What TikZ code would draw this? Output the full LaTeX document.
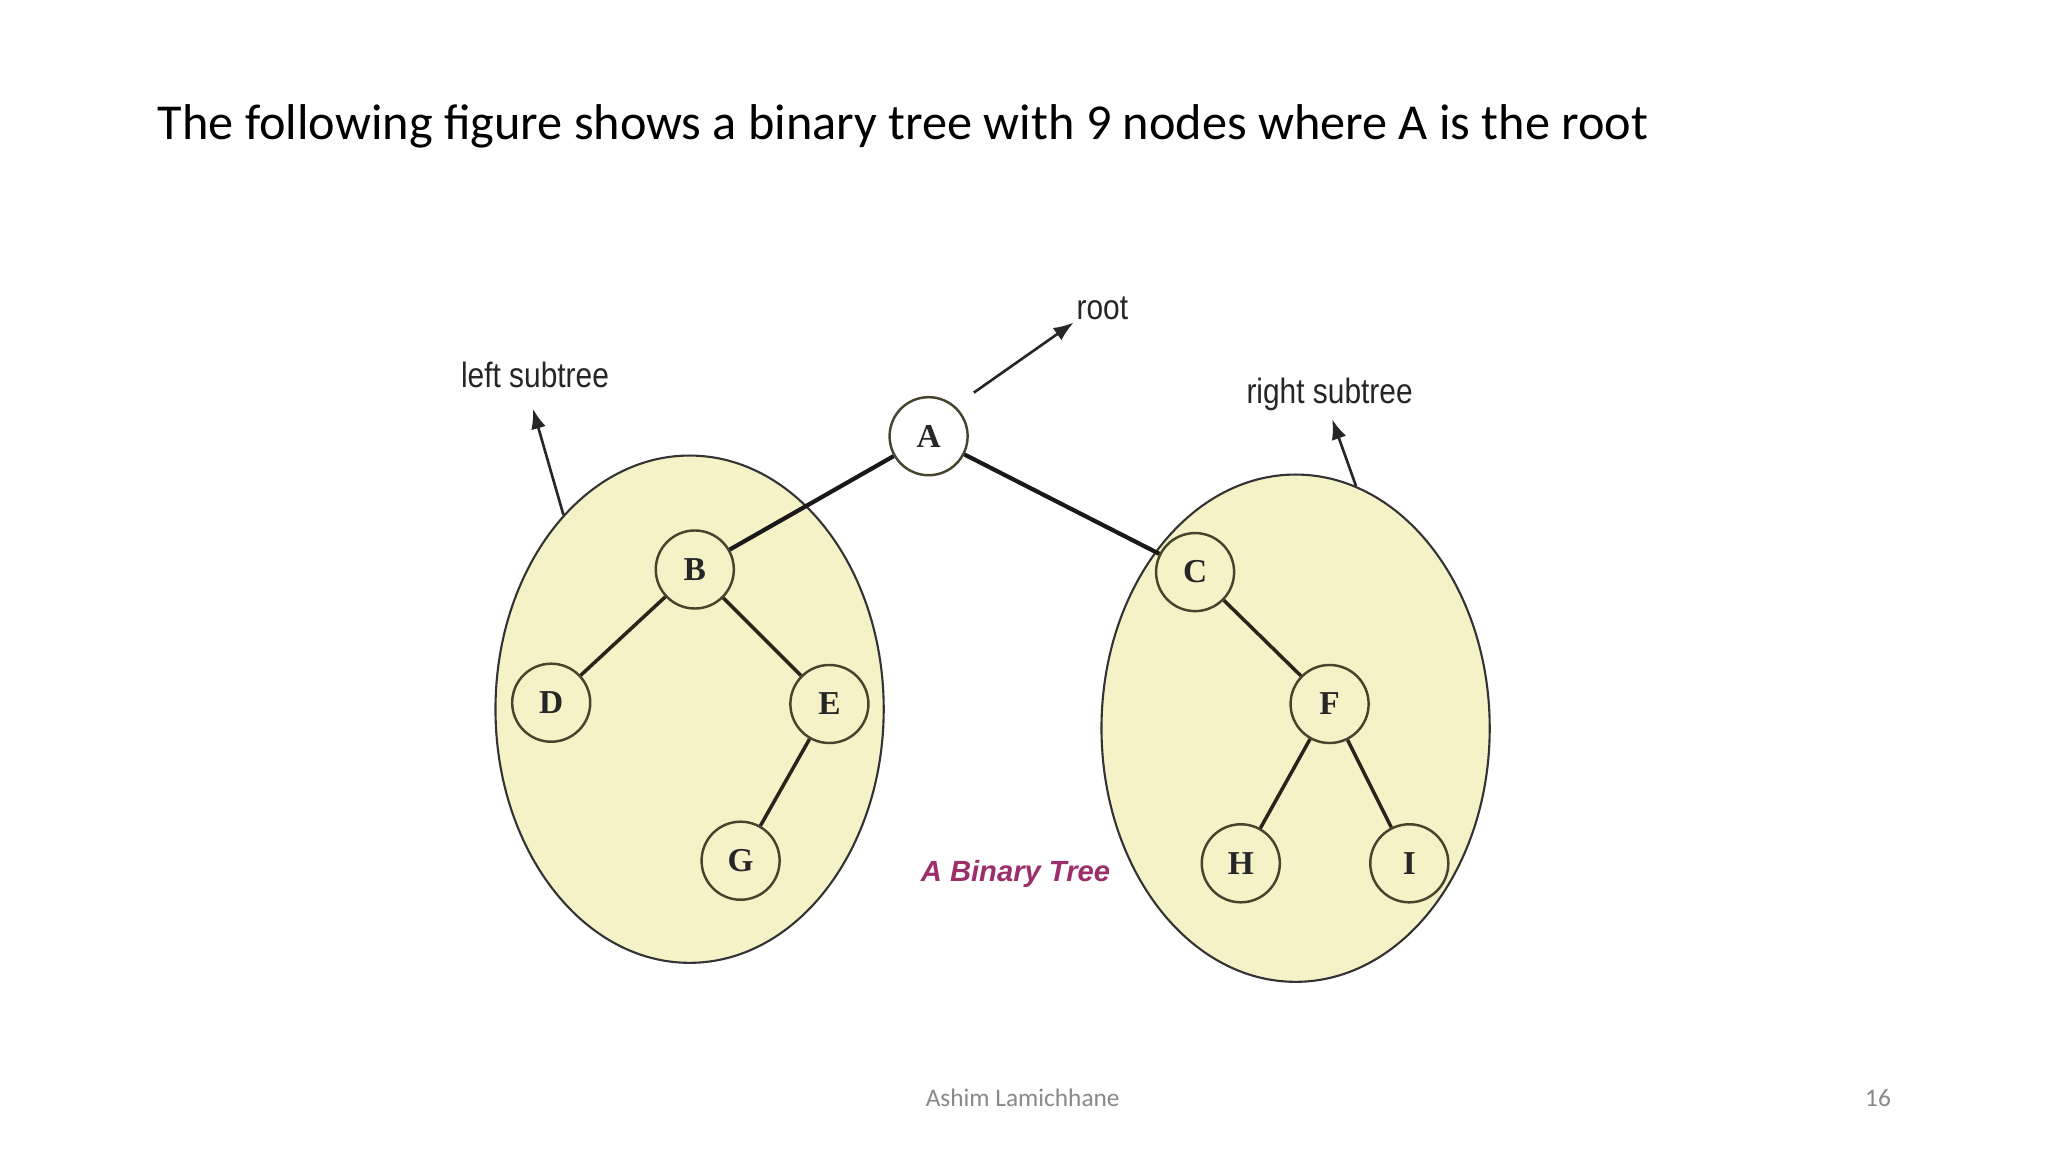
\documentclass[tikz,border=0pt]{standalone}
\usepackage{fontspec}
\setmainfont{Carlito}
\newfontfamily\arialf{Liberation Sans}
\newfontfamily\timesf{Liberation Serif}
\usetikzlibrary{shapes.geometric,arrows.meta}
\definecolor{subfill}{RGB}{245,242,200}
\definecolor{edgecol}{RGB}{40,38,25}
\definecolor{circcol}{RGB}{70,68,45}
\definecolor{captcol}{RGB}{156,47,106}
\definecolor{footcol}{RGB}{137,137,137}
\begin{document}
\begin{tikzpicture}[x=0.01cm,y=-0.01cm,
 treenode/.style={circle, draw=circcol, line width=0.7pt, fill=subfill, minimum size=0.78cm, inner sep=0pt, font=\timesf\bfseries\fontsize{9.5}{12}\selectfont, text=black!85},
 rootnode/.style={treenode, fill=white},
 subtree/.style={ellipse, draw=black!80, line width=0.6pt, fill=subfill, inner sep=0pt, minimum width=3.88cm, minimum height=5.07cm},
 treeedge/.style={draw=edgecol, line width=1pt},
 rootedge/.style={draw=black!90, line width=1.2pt},
 callout/.style={draw=black!85, line width=0.75pt, -{Latex[length=0.2cm,width=0.15cm]}},
 lbl/.style={font=\arialf\fontsize{10}{12}\selectfont, text=black!85, inner sep=0pt},
]
\fill[white] (0,0) rectangle (2048,1152);
\useasboundingbox (0,0) rectangle (2048,1152);

% title
\node[anchor=base west, inner sep=0pt, font=\fontsize{14.3}{17}\selectfont] (title) at (157,140)
  {The following figure shows a binary tree with 9 nodes where A is the root};

% subtrees
\node[subtree] (LS) at (689.6,709.2) {};
\node[subtree] (RS) at (1295.6,728.2) {};

% tree nodes
\node[rootnode] (A) at (928.6,436.2) {A};
\node[treenode] (B) at (694.8,569.5) {B};
\node[treenode] (C) at (1195.1,572.1) {C};
\node[treenode] (D) at (551.2,702.7) {D};
\node[treenode] (E) at (829.4,704.0) {E};
\node[treenode] (F) at (1329.6,704.0) {F};
\node[treenode] (G) at (740.6,860.7) {G};
\node[treenode] (H) at (1240.8,863.3) {H};
\node[treenode] (I) at (1409.3,863.3) {I};

% edges
\draw[rootedge] (A) -- (B);
\draw[rootedge] (A) -- (C);
\draw[treeedge] (B) -- (D);
\draw[treeedge] (B) -- (E);
\draw[treeedge] (E) -- (G);
\draw[treeedge] (C) -- (F);
\draw[treeedge] (F) -- (H);
\draw[treeedge] (F) -- (I);

% labels
\node[lbl] (rootlbl) at (1102.4,308.2) {\scalebox{0.85}[1]{root}};
\node[lbl] (leftlbl) at (535,374.8) {\scalebox{0.85}[1]{left subtree}};
\node[lbl] (rightlbl) at (1329.6,394.4) {\scalebox{0.85}[1]{right subtree}};

\coordinate (rootTip) at (1073.6,322.6);
\coordinate (leftTip) at (532.9,408.8);
\coordinate (rightTip) at (1332.2,419.3);

\draw[callout, shorten <=0.23cm] (A.49) -- (rootTip);
\draw[callout] (LS.123) -- (leftTip);
\draw[callout] (RS.76) -- (rightTip);

% caption
\node[font=\arialf\bfseries\itshape\fontsize{8.3}{10}\selectfont, text=captcol, inner sep=0pt] (caption) at (1015.5,873.8) {A Binary Tree};

% footer
\node[anchor=base, inner sep=0pt, font=\fontsize{7.2}{9}\selectfont, text=footcol] (author) at (1022.7,1106) {Ashim Lamichhane};
\node[anchor=base, inner sep=0pt, font=\fontsize{7.2}{9}\selectfont, text=footcol] (page) at (1878,1106) {16};
\end{tikzpicture}
\end{document}
